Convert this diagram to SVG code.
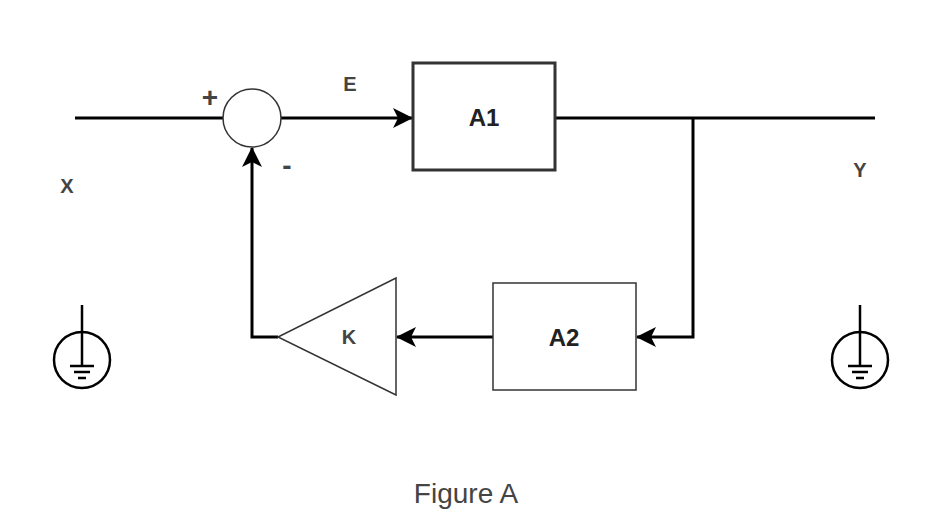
<svg xmlns="http://www.w3.org/2000/svg" width="934" height="532" viewBox="0 0 934 532">
<style>
.w{stroke:#000;stroke-width:3;fill:none}
.b{fill:#fff;stroke:#333}
.t{font-family:"Liberation Sans",Arial,sans-serif;font-weight:bold;fill:#444;text-anchor:middle;dominant-baseline:central}
.g{stroke:#000;stroke-width:2.5;fill:none}
</style>
<defs><marker id="a2" markerWidth="20" markerHeight="20" refX="19" refY="10" orient="auto" markerUnits="userSpaceOnUse" viewBox="0 0 20 20"><path d="M0,0 L20,10 L0,20 L5,10Z" fill="#000"/></marker></defs>
<g id="connectors">
<line class="w" x1="75" y1="118" x2="223" y2="118"/>
<line class="w" x1="281" y1="118" x2="412" y2="118" marker-end="url(#a2)"/>
<polyline class="w" points="555,118 875,118"/>
<polyline class="w" points="693,118 693,337 637,337" marker-end="url(#a2)"/>
<line class="w" x1="493" y1="337" x2="397" y2="337" marker-end="url(#a2)"/>
<polyline class="w" points="278,337 252,337 252,148" marker-end="url(#a2)"/>
</g>
<g id="sum"><circle class="b" cx="252" cy="118" r="29" stroke-width="1.5"/></g>
<g id="A1"><rect class="b" x="413" y="63" width="142" height="107" stroke-width="3"/><text class="t" x="484" y="117" style="font-size:24px;fill:#222">A1</text></g>
<g id="A2"><rect class="b" x="493" y="283" width="143" height="107" stroke-width="1.5"/><text class="t" x="564" y="337" style="font-size:24px;fill:#222">A2</text></g>
<g id="K"><polygon class="b" points="396,278 396,395 278,337" stroke-width="1.5"/><text class="t" x="349" y="337" style="font-size:20px">K</text></g>
<g id="gndL"><circle class="g" cx="82" cy="360" r="28"/><line class="g" x1="82" y1="305" x2="82" y2="366"/><line class="g" x1="70" y1="366" x2="94" y2="366"/><line class="g" x1="74" y1="372" x2="90" y2="372"/><line class="g" x1="78" y1="378" x2="86" y2="378"/></g>
<g id="gndR"><circle class="g" cx="860" cy="360" r="28"/><line class="g" x1="860" y1="305" x2="860" y2="366"/><line class="g" x1="848" y1="366" x2="872" y2="366"/><line class="g" x1="852" y1="372" x2="868" y2="372"/><line class="g" x1="856" y1="378" x2="864" y2="378"/></g>
<g id="labels">
<text class="t" x="210" y="97" style="font-size:28px">+</text>
<text class="t" x="287" y="165" style="font-size:28px">-</text>
<text class="t" x="350" y="84" style="font-size:20px">E</text>
<text class="t" x="67" y="186" style="font-size:20px">X</text>
<text class="t" x="860" y="170" style="font-size:20px">Y</text>
<text x="466" y="493" style="font-family:'Liberation Sans',Arial,sans-serif;font-size:28px;fill:#444" text-anchor="middle" dominant-baseline="central">Figure A</text>
</g>
</svg>
